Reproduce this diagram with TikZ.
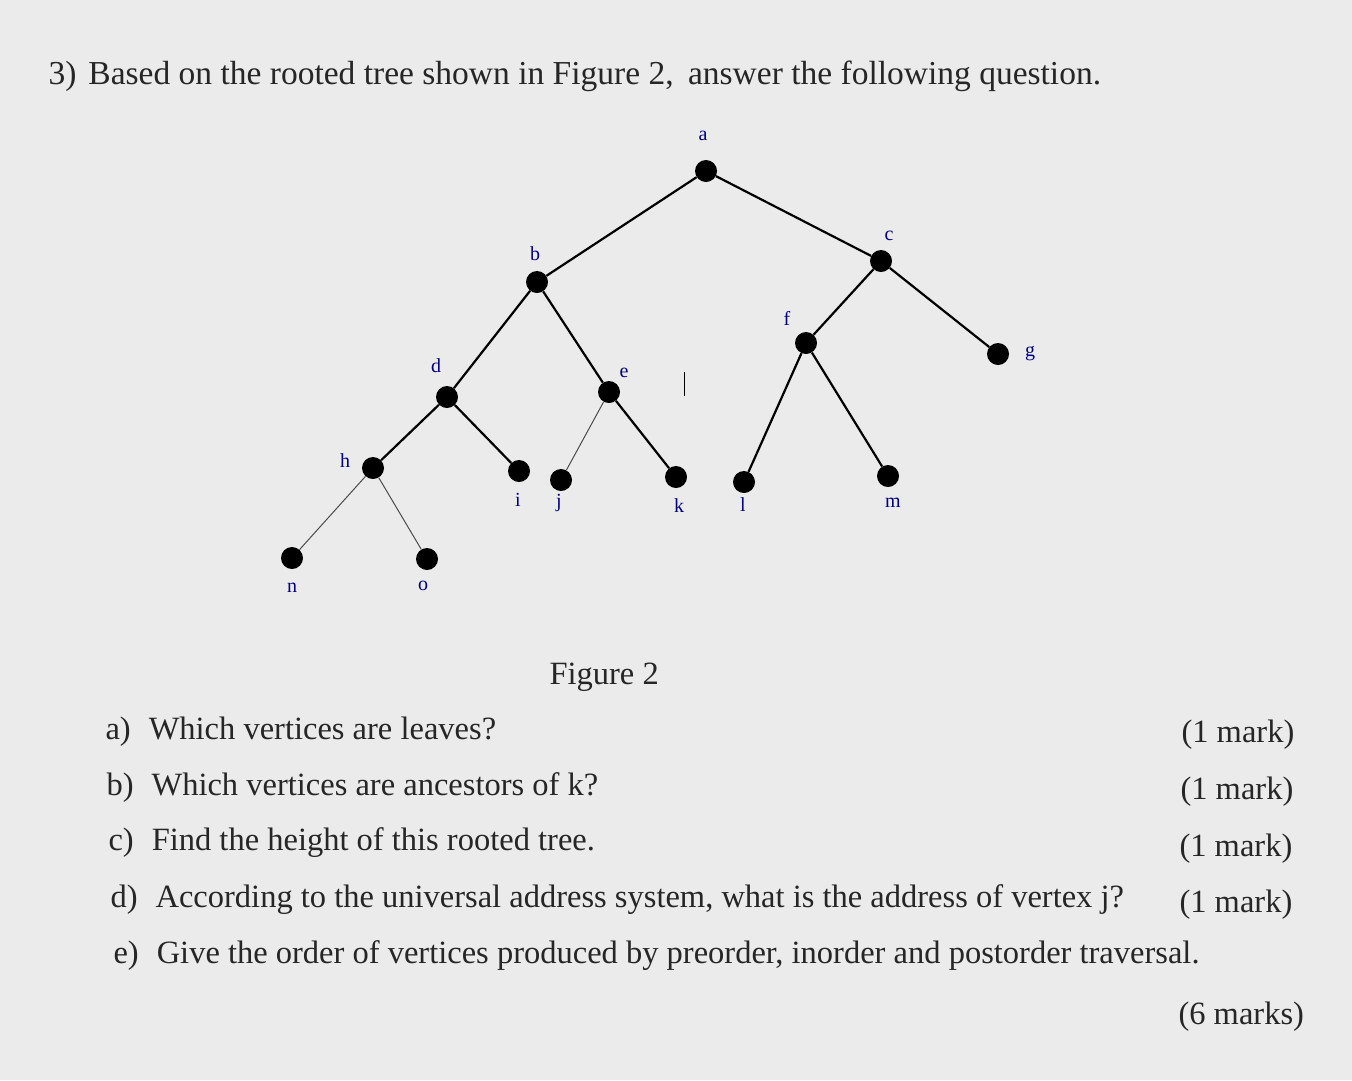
\documentclass[tikz,border=0pt]{standalone}
\usepackage{fontspec}
\setmainfont{Liberation Serif}
\begin{document}
\begin{tikzpicture}[x=1pt,y=-1pt,
 v/.style={circle,fill=black,inner sep=0,minimum size=22pt},
 e/.style={line width=2.2pt},
 te/.style={line width=1pt,draw=black!70},
 lb/.style={font=\fontsize{20}{20}\selectfont,text=blue!50!black},
 q/.style={anchor=base west,font=\fontsize{32.5}{34}\selectfont,text=black!85}]
\path[fill=black!8] (0,0) rectangle (1352,1080);
\useasboundingbox (0,0) rectangle (1352,1080);
\foreach \n/\x/\y in {a/706/171,b/537/282,c/881/261,d/447/397,e/609/392,f/806/343,g/998/354,h/373/468,i/519/471,j/561/480,k/676/477,l/744/482,m/888/476,n/292/558,o/427/559}
 \node[v] (\n) at (\x,\y) {};
\draw[e] (a)--(b); \draw[e] (a)--(c); \draw[e] (b)--(d); \draw[e] (b)--(e);
\draw[e] (c)--(f); \draw[e] (c)--(g); \draw[e] (d)--(h); \draw[e] (d)--(i);
\draw[te] (e)--(j); \draw[e] (e)--(k); \draw[e] (f)--(l); \draw[e] (f)--(m);
\draw[te] (h)--(n); \draw[te] (h)--(o);
\coordinate (bt) at (684,372); \coordinate (bb) at (684,396);
\draw[line width=1pt] (bt)--(bb);
\foreach \n/\x/\y in {a/703/136,b/535/254,c/889/236,d/436/366,e/624/373,f/787/318,g/1030/354,h/345/461,i/518/500,j/559/503,k/679/506,l/743/505,m/893/503,n/292/588,o/423/586}
 \node[lb] (l\n) at (\x,\y) {\n};
\node[q,font=\fontsize{33.5}{34}\selectfont] (t) at (45,84) {3)\hspace{12pt}Based on the rooted tree shown in Figure 2,\hspace{6pt} answer the following question.};
\node[q] (fig) at (546,684) {Figure 2};
\node[q] (qa) at (102,739) {a)\hspace{18pt}Which vertices are leaves?};
\node[q] (qb) at (103,795) {b)\hspace{18pt}Which vertices are ancestors of k?};
\node[q] (qc) at (105,850) {c)\hspace{18pt}Find the height of this rooted tree.};
\node[q] (qd) at (107,907) {d)\hspace{18pt}According to the universal address system, what is the address of vertex j?};
\node[q] (qe) at (110,963) {e)\hspace{18pt}Give the order of vertices produced by preorder, inorder and postorder traversal.};
\node[q] (ma) at (1178,742) {(1 mark)};
\node[q] (mb) at (1177,799) {(1 mark)};
\node[q] (mc) at (1176,856) {(1 mark)};
\node[q] (md) at (1176,912) {(1 mark)};
\node[q] (me) at (1175,1024) {(6 marks)};
\end{tikzpicture}
\end{document}
